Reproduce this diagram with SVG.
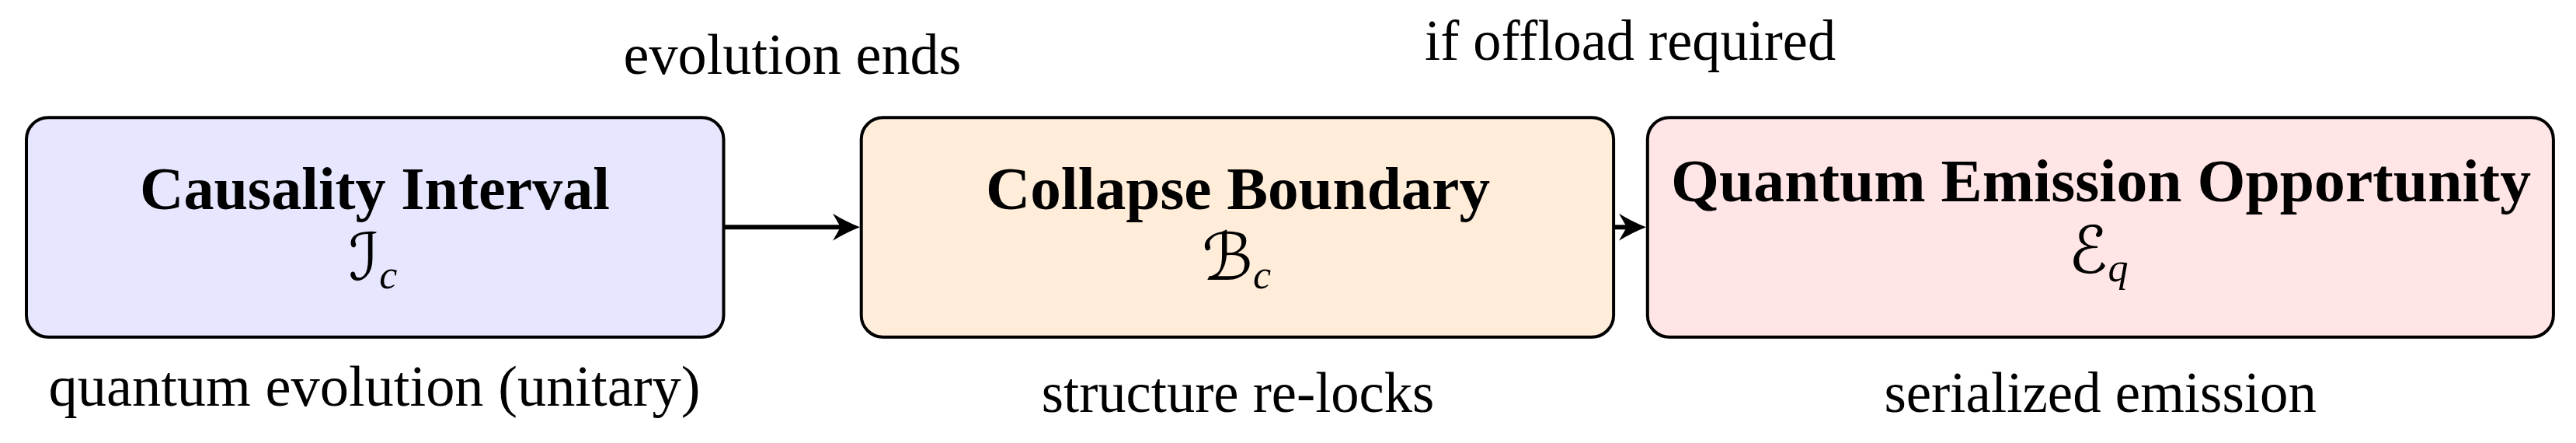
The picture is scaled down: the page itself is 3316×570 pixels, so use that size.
<svg xmlns="http://www.w3.org/2000/svg" width="3316" height="570" viewBox="0 0 3316 570">
  <style>
    .box { stroke: #000; stroke-width: 4; }
    .title { font-family: "Liberation Serif", "Times New Roman", serif; font-weight: bold; font-size: 78px; fill: #000; text-anchor: middle; }
    .lbl { font-family: "Liberation Serif", "Times New Roman", serif; font-size: 74px; fill: #000; text-anchor: middle; }
    .math { font-family: "Liberation Serif", serif; font-size: 74px; fill: #000; text-anchor: middle; }
    .scr { font-family: "DejaVu Serif", "DejaVu Sans", serif; font-style: normal; font-size: 84px; }
    .sub { font-family: "Liberation Serif", serif; font-style: italic; font-size: 52px; }
    .conn { stroke: #000; stroke-width: 6; fill: none; }
  </style>
  <defs>
    <marker id="ah" viewBox="0 0 36 36" refX="10" refY="18" markerWidth="36" markerHeight="36" markerUnits="userSpaceOnUse" orient="auto">
      <path d="M35 18 Q17 11 0 0.5 L10 18 L0 35.5 Q17 25 35 18 Z" fill="#000"/>
    </marker>
  </defs>
  <rect width="3316" height="570" fill="#fff"/>

  <g id="connectors">
    <path class="conn" d="M933 292.3 L1082 292.3" marker-end="url(#ah)"/>
    <path class="conn" d="M2079 292.3 L2094 292.3" marker-end="url(#ah)"/>
    <text class="lbl" x="1020" y="95" textLength="435" lengthAdjust="spacingAndGlyphs">evolution ends</text>
    <text class="lbl" x="2098.6" y="77" textLength="529" lengthAdjust="spacingAndGlyphs">if offload required</text>
  </g>

  <g id="node-causality">
    <rect class="box" x="34" y="151.3" width="897.5" height="282.4" rx="28" ry="28" fill="#E6E6FF"/>
    <text class="title" x="482.5" y="269" textLength="605" lengthAdjust="spacingAndGlyphs">Causality Interval</text>
    <text class="math" x="480" y="360"><tspan class="scr">ℐ</tspan><tspan class="sub" dy="11">c</tspan></text>
    <text class="lbl" x="482" y="522" textLength="839" lengthAdjust="spacingAndGlyphs">quantum evolution (unitary)</text>
  </g>

  <g id="node-collapse">
    <rect class="box" x="1108.7" y="151.3" width="968.4" height="282.4" rx="28" ry="28" fill="#FFEDD9"/>
    <text class="title" x="1593.5" y="269" textLength="649" lengthAdjust="spacingAndGlyphs">Collapse Boundary</text>
    <text class="math" x="1591.5" y="360"><tspan class="scr">ℬ</tspan><tspan class="sub" dy="11">c</tspan></text>
    <text class="lbl" x="1593.5" y="529.7" textLength="505.5" lengthAdjust="spacingAndGlyphs">structure re-locks</text>
  </g>

  <g id="node-emission">
    <rect class="box" x="2120.8" y="151.3" width="1166.1" height="282.4" rx="28" ry="28" fill="#FFE5E5"/>
    <text class="title" x="2704.5" y="259" textLength="1107" lengthAdjust="spacingAndGlyphs">Quantum Emission Opportunity</text>
    <text class="math" x="2701" y="351"><tspan class="scr">ℰ</tspan><tspan class="sub" dy="11">q</tspan></text>
    <text class="lbl" x="2703.7" y="529.7" textLength="556.6" lengthAdjust="spacingAndGlyphs">serialized emission</text>
  </g>
</svg>
